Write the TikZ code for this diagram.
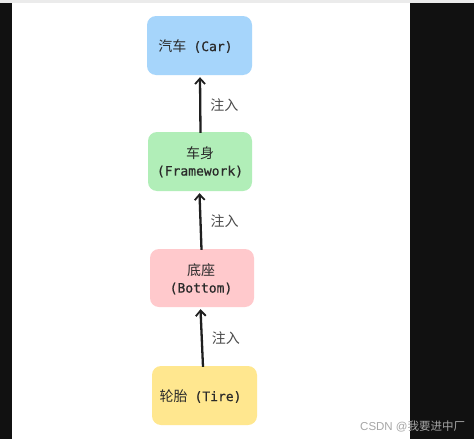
\documentclass[tikz,border=0pt]{standalone}
\usepackage{fontspec}
\setmonofont[FakeBold=0.7]{DejaVu Sans Mono}
\setsansfont{Liberation Sans}
\newfontfamily\cjk{Noto Sans CJK SC}
\usetikzlibrary{arrows.meta}
\definecolor{cblue}{HTML}{A6D5FB}
\definecolor{cgreen}{HTML}{B1EEB8}
\definecolor{cpink}{HTML}{FFC9CC}
\definecolor{cyellow}{HTML}{FFE78F}
\definecolor{txt}{HTML}{2A2A2A}
\definecolor{lbl}{HTML}{4A4A4A}
\definecolor{frame}{HTML}{111111}
\begin{document}
\begin{tikzpicture}[x=1pt,y=-1pt,
  box/.style={rounded corners=9pt, inner sep=0pt},
  btext/.style={text=txt, align=center, inner sep=0pt,
    font=\fontsize{13}{17}\selectfont},
  link/.style={draw=black!88, line width=2.3pt, -{Straight Barb[length=5.5pt,width=10pt,line width=1.8pt]}},
  lab/.style={text=lbl, font=\cjk\fontsize{14}{15}\selectfont, inner sep=0pt}]
\useasboundingbox (0,0) rectangle (474,439);
\fill[white] (0,0) rectangle (474,439);
\fill[black!8] (0,0) rectangle (474,3);
\fill[frame] (0,3) rectangle (12,439);
\fill[frame] (410,3) rectangle (474,439);
% boxes
\node[box, fill=cblue, minimum width=105pt, minimum height=59pt] (car) at (199.5,45.5) {};
\node[box, fill=cgreen, minimum width=104pt, minimum height=59pt] (fw) at (200,161.5) {};
\node[box, fill=cpink, minimum width=104pt, minimum height=58pt] (bt) at (202,278) {};
\node[box, fill=cyellow, minimum width=105pt, minimum height=59pt] (tire) at (204.5,395.5) {};
% texts
\node[btext] (cart) at (195.5,46) {{\cjk\fontsize{14}{17}\selectfont 汽车}\hspace{7pt}{\ttfamily (Car)}};
\node[btext] (fwt) at (200,162) {{\cjk\fontsize{14}{17}\selectfont 车身}\\{\ttfamily (Framework)}};
\node[btext] (btt) at (201,279) {{\cjk\fontsize{14}{17}\selectfont 底座}\\{\ttfamily (Bottom)}};
\node[btext] (tiret) at (200.5,396) {{\cjk\fontsize{14}{17}\selectfont 轮胎}\hspace{7pt}{\ttfamily (Tire)}};
% arrows
\draw[link] ([xshift=0.5pt,yshift=-1pt]fw.north) -- ([xshift=0.5pt,yshift=-2pt]car.south) node[midway, right=9pt, lab] {注入};
\draw[link] ([xshift=-0.5pt,yshift=-1pt]bt.north) -- ([xshift=-0.5pt,yshift=-2pt]fw.south) node[midway, right=9pt, lab] {注入};
\draw[link] ([xshift=-1.5pt,yshift=-1pt]tire.north) -- ([xshift=-1.5pt,yshift=-2pt]bt.south) node[midway, right=9pt, lab] {注入};
% watermark
\node[anchor=west, inner sep=0pt, text=black!35, font=\fontsize{11.5}{13}\selectfont] (wm) at (360,426)
  {\sffamily CSDN @{\cjk 我要进中厂}};
\end{tikzpicture}
\end{document}
